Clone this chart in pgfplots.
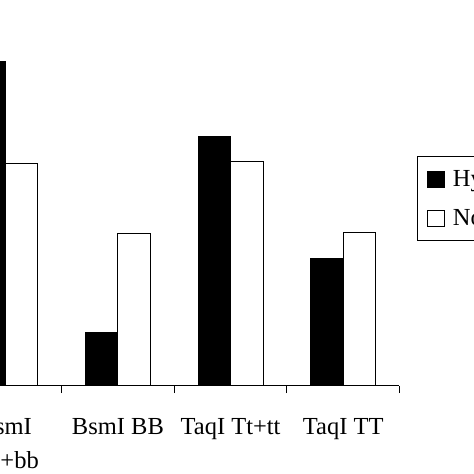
\documentclass[border=0pt]{standalone}
\usepackage{pgfplots}
\pgfplotsset{compat=1.18}
\usepackage{fontspec}
\setmainfont{Liberation Serif}
\begin{document}
\begin{tikzpicture}
\path[use as bounding box, clip] (0,0) rectangle (474pt,474pt);
\begin{axis}[
  at={(-51pt,88.3pt)}, anchor=south west,
  scale only axis, width=450.5pt, height=376pt,
  xmin=-0.5, xmax=3.5, ymin=0, ymax=100,
  ybar=0pt, bar width=32.5pt,
  axis x line*=bottom, axis y line=none,
  xtick={0,1,2,3},
  xticklabels={{BsmI\\Bb+bb},{BsmI BB},{TaqI Tt+tt},{TaqI TT}},
  major tick length=0pt,
  extra x ticks={-0.5,0.5,1.5,2.5,3.5},
  extra x tick labels={},
  extra x tick style={major tick length=7.5pt, tick align=outside, tick style={black, line width=1pt}},
  xticklabel style={font=\fontsize{24.5}{34}\selectfont, align=center, anchor=north, inner sep=0pt, yshift=-32.5pt},
  x axis line style={line width=1.2pt},
  legend style={at={(1.038,0.611)}, anchor=north west, draw=black, line width=0.8pt,
    font=\fontsize{24.5}{29}\selectfont, inner xsep=10pt, inner ysep=14pt, row sep=21pt, column sep=8pt,
    nodes={inner sep=0pt}},
  legend cell align=left,
  legend image code/.code={\draw[#1, line width=0.8pt] (0pt,-8pt) rectangle (17pt,8pt);},
  clip=false,
]
\addplot[fill=black, draw=black, line width=1pt] coordinates {(0,86.2) (1,14.1) (2,66.3) (3,33.7)};
\addplot[fill=white, draw=black, line width=1pt] coordinates {(0,59.2) (1,40.6) (2,59.5) (3,40.7)};
\legend{Hypertensive, Normotensive}
\end{axis}
\end{tikzpicture}
\end{document}
